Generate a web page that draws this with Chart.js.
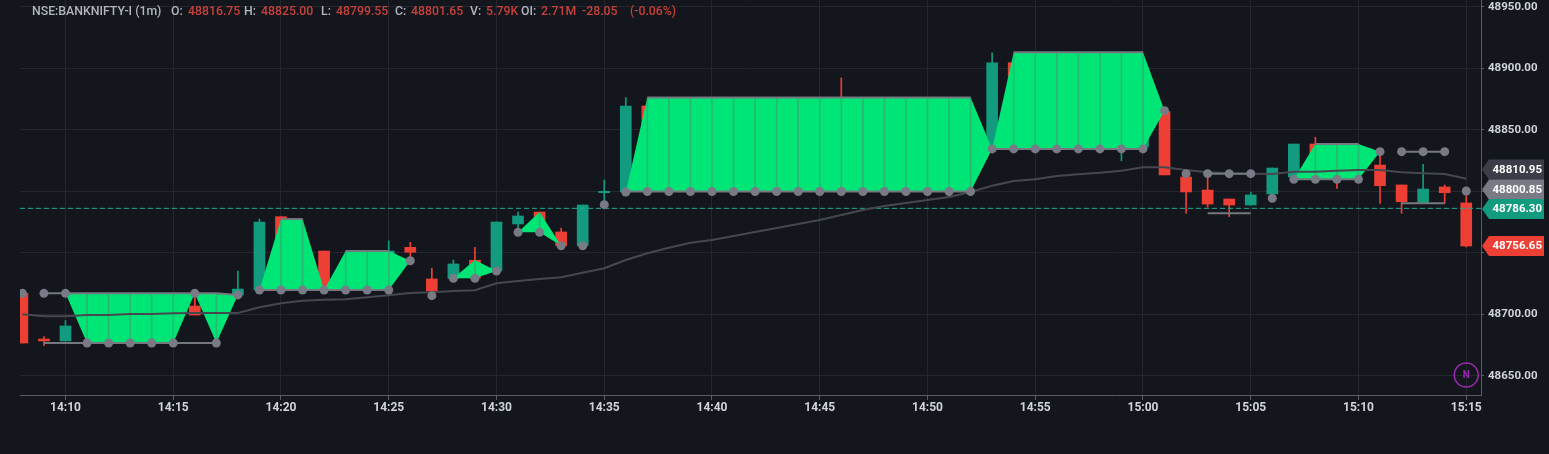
<!DOCTYPE html>
<html>
<head>
<meta charset="utf-8">
<script src="https://cdn.jsdelivr.net/npm/chart.js@4.4.0/dist/chart.umd.min.js"></script>
<style>
    html, body { margin: 0; padding: 0; background: #13161d; overflow: hidden; }
    canvas { display: block; }
</style>
</head>
<body>
<canvas id="chart" width="1549" height="454"></canvas>
<script>
// Minutes past 14:00, one bar per minute from 14:08 to 15:15
const minutes = [];
for (let m = 8; m <= 75; m++) minutes.push(m);

// Candles that can be seen (the ones fully under the green band are left out)
const candleMinutes = [8, 9, 10, 16, 18, 19, 20, 22, 25, 26, 27, 28, 29, 30, 31, 32, 33, 34, 35, 36, 37, 46, 53, 54, 59, 60, 61, 62, 63, 64, 65, 66, 67, 68, 69, 71, 72, 73, 74, 75];
const opens = [48717.2, 48680.1, 48678.5, 48706.9, 48715.9, 48719.9, 48779.5, 48751.6, 48742.7, 48754.6, 48728.9, 48729.4, 48744.1, 48735.4, 48773.6, 48783.3, 48767.1, 48755.9, 48799, 48799.6, 48869.5, 48860, 48834.6, 48904.7, 48840, 48836.2, 48864.9, 48811.8, 48801.2, 48793.9, 48789, 48798, 48811.8, 48838.6, 48833.7, 48821.5, 48805.3, 48790.4, 48803.7, 48790.7];
const highs = [48717.2, 48682, 48695, 48713.7, 48735.4, 48777.6, 48779.5, 48751.6, 48759.8, 48758.7, 48737.6, 48744.3, 48754.6, 48775.2, 48783.3, 48783.3, 48770.3, 48789, 48809.3, 48876.4, 48869.5, 48892.3, 48912.8, 48904.7, 48870, 48874.4, 48864.9, 48811.8, 48812, 48793.9, 48799.3, 48819.1, 48838.6, 48844.1, 48833.7, 48832.4, 48805.3, 48822.1, 48805.3, 48797.2];
const lows = [48676.8, 48674.6, 48678.5, 48699.6, 48715.9, 48719.9, 48752.4, 48719.9, 48742.7, 48743.7, 48719.1, 48729.4, 48729.7, 48735.4, 48766.8, 48775.2, 48755.9, 48755.9, 48791.7, 48799.6, 48833.7, 48850, 48834.6, 48874.4, 48825, 48836.2, 48813.4, 48782.3, 48787.2, 48779.5, 48789, 48798, 48811.8, 48825.6, 48802.6, 48790.4, 48782.3, 48790.4, 48790.4, 48754.9];
const closes = [48676.8, 48678.5, 48690.7, 48699.6, 48720.7, 48775.2, 48752.4, 48719.9, 48751.6, 48750.6, 48719.1, 48741.1, 48729.7, 48775.2, 48780.1, 48775.2, 48755.9, 48789, 48800.2, 48869.5, 48833.7, 48850, 48904.7, 48874.4, 48860, 48874.4, 48813.4, 48799.6, 48789.8, 48789, 48797.2, 48819.1, 48838.6, 48825.6, 48813.4, 48804.7, 48791.7, 48802, 48799, 48755.7];

// Grey pivot dots, one per minute; also the lower edge of the green band
const pivots = [
    48717.2, 48717.2, 48717.2, 48676.8, 48676.8, 48676.8, 48676.8, 48676.8, 48717.2, 48676.8,
    48715.9, 48719.9, 48719.9, 48719.9, 48719.9, 48719.9, 48719.9, 48719.9, 48743.7, 48715.3,
    48729.4, 48729.4, 48735.4, 48766.8, 48766.8, 48755.9, 48755.9, 48789.3, 48799.6, 48800,
    48800, 48800, 48800, 48800, 48800, 48800, 48800, 48800, 48800, 48800,
    48800, 48800, 48800, 48800, 48800, 48834.6, 48834.6, 48834.6, 48834.6, 48834.6,
    48834.6, 48834.6, 48834.6, 48865.7, 48814.5, 48814.5, 48814.5, 48814.5, 48794.5, 48809.9,
    48809.9, 48809.9, 48809.9, 48832.4, 48832.4, 48832.4, 48832.4, 48800.4
];

// Upper edge of the green band
const bandTop = [
    null, null, 48717.2, 48717.2, 48717.2, 48717.2, 48717.2, 48717.2, 48717.2, 48717.2,
    48715.9, 48719.9, 48777.6, 48777.6, 48719.9, 48751.6, 48751.6, 48751.6, 48743.7, null,
    48729.4, 48744.3, 48735.4, 48766.8, 48783.3, 48755.9, null, null, 48799.6, 48876.4,
    48876.4, 48876.4, 48876.4, 48876.4, 48876.4, 48876.4, 48876.4, 48876.4, 48876.4, 48876.4,
    48876.4, 48876.4, 48876.4, 48876.4, 48876.4, 48834.6, 48913.2, 48913.2, 48913.2, 48913.2,
    48913.2, 48913.2, 48913.2, 48865.7, null, null, null, null, null, 48809.9,
    48838.6, 48838.6, 48838.6, 48832.4, null, null, null, null
];

// Slow grey average line
const average = [
    48700.2, 48698.5, 48698.5, 48699.6, 48699.6, 48700.4, 48700.4, 48701, 48701.2, 48701.2,
    48701.2, 48705.9, 48709.1, 48711.2, 48712, 48712.4, 48714, 48715.6, 48717.5, 48718,
    48719.1, 48719.7, 48725.4, 48727.2, 48728.9, 48730.2, 48734, 48737.6, 48744.3, 48749.8,
    48754.3, 48758.4, 48760.6, 48763.8, 48767.1, 48770.3, 48773.6, 48776.8, 48780.9, 48785,
    48788.2, 48790.7, 48793.1, 48795.5, 48799.6, 48804.7, 48808.5, 48809.9, 48812.6, 48814,
    48815.3, 48816.9, 48819.7, 48819.7, 48817.5, 48815.6, 48814.8, 48814.5, 48814.2, 48816.1,
    48816.1, 48816.9, 48817.5, 48817.5, 48815.6, 48814.8, 48814.2, 48810.4
];

// Flat grey level lines: [from minute, price, to minute, price]
const levelLines = [
    [9, 48717.2, 17, 48717.2], [17, 48717.2, 18, 48715.9], [20, 48777.6, 21, 48777.6],
    [23, 48751.6, 25, 48751.6], [37, 48876.4, 52, 48876.4], [54, 48913.2, 60, 48913.2],
    [63, 48814.5, 65, 48814.5], [68, 48838.6, 70, 48838.6], [72, 48832.4, 74, 48832.4],
    [9, 48676.8, 17, 48676.8], [19, 48719.9, 25, 48719.9], [36, 48800, 52, 48800],
    [53, 48834.6, 60, 48834.6], [63, 48782.3, 65, 48782.3], [67, 48809.9, 70, 48809.9],
    [72, 48790.4, 74, 48790.4]
];

const lastPriceLine = 48786.30;
const xTicksStep = 5;
const yTicksStep = 50;

// Price tags on the right axis
const tagLabels = ['48810.95', '48800.85', '48786.30', '48756.65'];
const tagPrices = [48817.9, 48801.7, 48785.8, 48755.7];
const tagColors = ['#3b3e48', '#787b86', '#129b7e', '#ee3f35'];

// Header runs: [text, colour, x]
const GREY = '#b2b5be', RED = '#c8413a';
const headerRuns = [
    ['NSE:BANKNIFTY-I (1m)', GREY, 32], ['O:', GREY, 171], ['48816.75', RED, 188],
    ['H:', GREY, 244], ['48825.00', RED, 261], ['L:', GREY, 321], ['48799.55', RED, 336],
    ['C:', GREY, 395], ['48801.65', RED, 411], ['V:', GREY, 470], ['5.79K', RED, 486],
    ['OI:', GREY, 521], ['2.71M', RED, 541], ['-28.05', RED, 582], ['(-0.06%)', RED, 630]
];

const UP = '#129b7e', DOWN = '#ee3f35', BAND = '#00e676', LINE_GREY = '#75787f';

const toPoints = series => minutes.map((m, i) => ({ x: m, y: series[i] }));
const candleColors = candleMinutes.map((m, i) => closes[i] >= opens[i] ? UP : DOWN);
const seamPoints = minutes
    .map((m, i) => ({ x: m, y: [pivots[i], bandTop[i]] }))
    .filter(p => p.y[1] !== null && p.y[0] !== p.y[1]);

const datasets = [
    // 0: lower band edge, used as fill target
    { type: 'line', data: toPoints(pivots), borderColor: 'transparent', borderWidth: 0, pointRadius: 0, order: 9 },
    // 1: upper band edge, filled down to dataset 0
    {
        type: 'line', data: toPoints(bandTop), borderColor: 'transparent', borderWidth: 0, pointRadius: 0,
        backgroundColor: BAND, fill: { target: 0 }, spanGaps: false, order: 5
    },
    // Candle wicks
    {
        type: 'bar', data: candleMinutes.map((m, i) => ({ x: m, y: [lows[i], highs[i]] })),
        backgroundColor: candleColors, barThickness: 1, grouped: false, order: 8
    },
    // Candle bodies
    {
        type: 'bar', data: candleMinutes.map((m, i) => ({ x: m, y: [opens[i], closes[i]] })),
        backgroundColor: candleColors, barThickness: 11, grouped: false, order: 7
    },
    // Thin seams inside the band
    {
        type: 'bar', data: seamPoints, backgroundColor: 'rgba(86,128,108,0.45)',
        barThickness: 1, grouped: false, order: 4
    },
    // Last price dashed line
    {
        type: 'line', data: [{ x: 7.889, y: lastPriceLine }, { x: 75.685, y: lastPriceLine }],
        borderColor: '#22ab94', borderWidth: 1, borderDash: [5, 3], pointRadius: 0, order: 6
    },
    // Average line
    { type: 'line', data: toPoints(average), borderColor: '#45484f', borderWidth: 2, pointRadius: 0, order: 2 },
    // Pivot dots
    {
        type: 'line', data: toPoints(pivots), showLine: false, pointRadius: 4.5,
        pointBackgroundColor: '#787b86', pointBorderWidth: 0, order: 0
    }
];

levelLines.forEach(l => {
    datasets.push({
        type: 'line', data: [{ x: l[0], y: l[1] }, { x: l[2], y: l[3] }],
        borderColor: LINE_GREY, borderWidth: 2, pointRadius: 0, order: 1
    });
});

// Header text, price tags and the round N badge
const overlayPlugin = {
    id: 'overlay',
    afterDraw(chart) {
        const ctx = chart.ctx;
        const yScale = chart.scales.y, xScale = chart.scales.x;
        ctx.save();

        ctx.textBaseline = 'middle';
        ctx.textAlign = 'left';
        ctx.font = '500 12.3px Roboto';
        headerRuns.forEach(r => {
            ctx.fillStyle = r[1];
            ctx.fillText(r[0], r[2], 11.5);
        });

        tagLabels.forEach((label, i) => {
            const y = yScale.getPixelForValue(tagPrices[i]);
            ctx.fillStyle = tagColors[i];
            ctx.beginPath();
            ctx.moveTo(1482, y);
            ctx.lineTo(1489, y - 10);
            ctx.lineTo(1544, y - 10);
            ctx.lineTo(1544, y + 10);
            ctx.lineTo(1489, y + 10);
            ctx.closePath();
            ctx.fill();
            ctx.fillStyle = '#ffffff';
            ctx.font = 'bold 11.5px Roboto';
            ctx.fillText(label, 1492.5, y + 0.5);
        });

        const cx = xScale.getPixelForValue(75), cy = yScale.getPixelForValue(48650);
        ctx.strokeStyle = '#9c27b0';
        ctx.lineWidth = 1.5;
        ctx.beginPath();
        ctx.arc(cx, cy - 1, 12, 0, Math.PI * 2);
        ctx.stroke();
        ctx.fillStyle = '#9c27b0';
        ctx.textAlign = 'center';
        ctx.font = 'bold 10px Roboto';
        ctx.fillText('N', cx, cy - 0.5);
        ctx.restore();
    }
};

new Chart(document.getElementById('chart'), {
    type: 'line',
    data: { datasets: datasets },
    plugins: [overlayPlugin],
    options: {
        responsive: false,
        animation: false,
        events: [],
        // autoPadding would push the plot down because of the dots
        layout: { autoPadding: false, padding: { left: 20, right: 0, top: 0, bottom: 0 } },
        plugins: { legend: { display: false }, tooltip: { enabled: false } },
        scales: {
            x: {
                type: 'linear', min: 7.889, max: 75.685, offset: false,
                afterFit: scale => { scale.height = 59; },
                grid: { color: '#24272f', tickColor: '#5a5d65', tickLength: 5, offset: false },
                border: { color: '#5a5d65' },
                ticks: {
                    stepSize: xTicksStep, includeBounds: false, maxRotation: 0, autoSkip: false,
                    color: '#d1d4dc', font: { family: 'Roboto', size: 12, weight: 'bold' }, padding: 1,
                    callback: v => {
                        const h = 14 + Math.floor(v / 60);
                        return h + ':' + String(v % 60).padStart(2, '0');
                    }
                }
            },
            y: {
                position: 'right', min: 48634.55, max: 48955.69, beginAtZero: false,
                afterFit: scale => { scale.width = 68; scale.paddingTop = 0; scale.paddingBottom = 0; },
                grid: { color: '#24272f', tickColor: '#5a5d65', tickLength: 3 },
                border: { color: '#5a5d65' },
                ticks: {
                    stepSize: yTicksStep, includeBounds: false, autoSkip: false,
                    color: '#d1d4dc', font: { family: 'Roboto', size: 11.5, weight: 'bold' }, padding: 4,
                    callback: v => v.toFixed(2)
                }
            }
        }
    }
});
</script>
</body>
</html>
